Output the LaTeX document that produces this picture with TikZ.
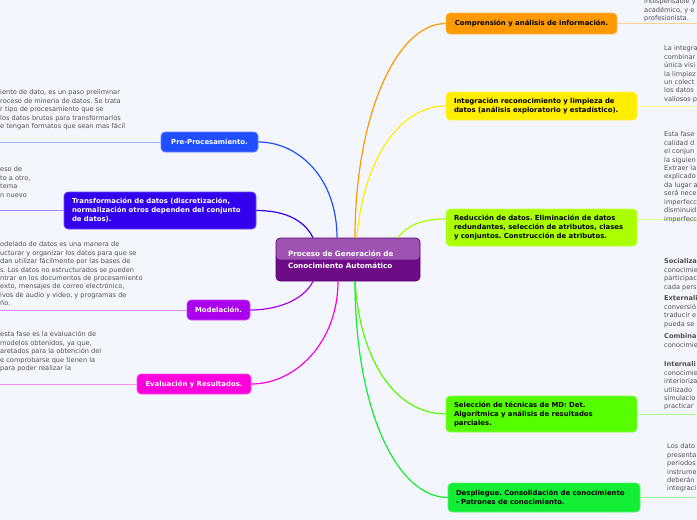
\documentclass[tikz,border=0pt]{standalone}
\usepackage{fontspec}
\setmainfont{DejaVu Sans}
\usetikzlibrary{positioning, calc}
\definecolor{bg}{HTML}{F4F6FD}
\definecolor{txtgray}{HTML}{505050}
\definecolor{hubtop}{HTML}{9E52B2}
\definecolor{hubbot}{HTML}{6E0C88}
\definecolor{hubedge}{HTML}{5A0070}
\definecolor{ppblue}{HTML}{1F4FFF}
\definecolor{trviolet}{HTML}{3300EE}
\definecolor{mdpurple}{HTML}{AA00EE}
\definecolor{evpink}{HTML}{FF00DD}
\definecolor{cporange}{HTML}{FF9900}
\definecolor{inyellow}{HTML}{FFEE00}
\definecolor{rdlime}{HTML}{AAFF00}
\definecolor{slgreen}{HTML}{55FF00}
\definecolor{dpgreen}{HTML}{11EE33}
\frenchspacing

\begin{document}
\begin{tikzpicture}[x=1pt, y=-1pt,
  branch/.style={rounded corners=4pt, inner sep=0pt, fill=#1, draw=#1!70!white,
    line width=0.6pt, font=\fontsize{6.9}{9}\selectfont\bfseries},
  hubbox/.style={rounded corners=4pt, inner sep=0pt, fill=hubbot, draw=hubedge,
    line width=0.6pt, text=white, align=left, text width=120pt,
    minimum width=144pt, minimum height=43pt,
    font=\fontsize{7.2}{12}\selectfont\bfseries,
    path picture={\fill[hubtop] (path picture bounding box.north west)
      rectangle (path picture bounding box.east);}},
  note/.style={anchor=north west, inner sep=0pt, align=left, text=txtgray,
    font=\fontsize{6.6}{8.45}\selectfont},
  link/.style={line width=1.2pt, draw=#1},
  lead/.style={line width=0.9pt, draw=#1!45!white},
]

% Background
\fill[bg] (0,0) rectangle (697,520);
\clip (0,0) rectangle (697,520);

% Edges of the sheet
\coordinate (L) at (0,0);
\coordinate (R) at (697,0);

% ================================================================
% Central topic
% ================================================================
\node[hubbox] (hub) at (348,259.5)
  {Proceso de Generación de\\Conocimiento Automático};

% ================================================================
% LEFT branches
% ================================================================
\node[branch=ppblue, text=white, minimum width=97pt, minimum height=20pt]
  (pre) at (209.5,142) {Pre-Procesamiento.};
\node[branch=trviolet, text=white, minimum width=192pt, minimum height=37pt,
  text width=176pt, align=left] (tra) at (160,210.5)
  {Transformación de datos (discretización,\\normalización otros dependen del conjunto\\de datos).};
\node[branch=mdpurple, text=white, minimum width=63pt, minimum height=20pt]
  (mod) at (218.5,310) {Modelación.};
\node[branch=evpink, text=white, minimum width=114pt, minimum height=20pt]
  (eva) at (194,384) {Evaluación y Resultados.};

% ================================================================
% RIGHT branches
% ================================================================
\node[branch=cporange, minimum width=171pt, minimum height=21pt]
  (com) at (531.5,23.5) {Comprensión y análisis de información.};
\node[branch=inyellow, minimum width=191pt, minimum height=28pt,
  text width=175pt, align=left] (int) at (541.5,106)
  {Integración reconocimiento y limpieza de\\datos (análisis exploratorio y estadístico).};
\node[branch=rdlime, minimum width=191pt, minimum height=37pt,
  text width=175pt, align=left] (red) at (541.5,227.5)
  {Reducción de datos. Eliminación de datos\\redundantes, selección de atributos, clases\\y conjuntos. Construcción de atributos.};
\node[branch=slgreen, minimum width=191pt, minimum height=36pt,
  text width=175pt, align=left] (sel) at (541.5,414)
  {Selección de técnicas de MD: Det.\\Algorítmica y análisis de resultados\\parciales.};
\node[branch=dpgreen, minimum width=192pt, minimum height=29pt,
  text width=176pt, align=left] (dep) at (544,497.5)
  {Despliegue. Consolidación de conocimiento\\- Patrones de conocimiento.};

% ================================================================
% Connectors from the central topic
% ================================================================
\draw[link=ppblue] ([xshift=-11pt]hub.north) .. controls +(0,-60) and +(40,0) .. (pre.east);
\draw[link=trviolet] ([xshift=-35pt]hub.north) .. controls +(-10,-20) and +(25,0) .. (tra.east);
\draw[link=mdpurple] ([xshift=-35pt]hub.south) .. controls +(-10,20) and +(25,0) .. (mod.east);
\draw[link=evpink] ([xshift=-10pt]hub.south) .. controls +(0,60) and +(45,0) .. (eva.east);
\draw[link=cporange] ([xshift=7pt]hub.north) .. controls +(0,-120) and +(-50,0) .. (com.west);
\draw[link=inyellow] ([xshift=9pt]hub.north) .. controls +(5,-70) and +(-50,0) .. (int.west);
\draw[link=rdlime] ([xshift=50pt]hub.north) .. controls +(10,-14) and +(-20,0) .. ([yshift=8.5pt]red.west);
\draw[link=slgreen] ([xshift=7pt]hub.south) .. controls +(5,80) and +(-50,0) .. (sel.west);
\draw[link=dpgreen] ([xshift=7pt]hub.south) .. controls +(0,130) and +(-50,0) .. (dep.west);

% Leads out to the notes
\draw[lead=ppblue] (pre.west) -- (pre.west -| L);
\draw[lead=trviolet] (tra.west) -- (tra.west -| L);
\draw[lead=mdpurple] (mod.west) -- (mod.west -| L);
\draw[lead=evpink] (eva.west) -- (eva.west -| L);
\draw[lead=cporange] (com.east) -- (com.east -| R);
\draw[lead=inyellow] (int.east) -- (int.east -| R);
\draw[lead=rdlime] ([yshift=8.5pt]red.east) -- ([yshift=8.5pt]red.east -| R);
\draw[lead=slgreen] (sel.east) -- (sel.east -| R);
\draw[lead=dpgreen] (dep.east) -- (dep.east -| R);

% ================================================================
% Notes (cut by the sheet edges)
% ================================================================
\node[note] (prenote) at (0,89.5)
  {iento de dato, es un paso preliminar\\roceso de mineria de datos. Se trata\\r tipo de procesamiento que se\\los datos brutos para transformarlos\\e tengan formatos que sean mas fácil};
\node[note] (tranote) at (0,166.5)
  {eso de\\to a otro,\\tema\\n nuevo};
\node[note] (modnote) at (0,241.5)
  {odelado de datos es una manera de\\ucturar y organizar los datos para que se\\dan utilizar fácilmente por las bases de\\s. Los datos no estructurados se pueden\\ntrar en los documentos de procesamiento\\exto, mensajes de correo electrónico,\\ivos de audio y video, y programas de\\ño.};
\node[note] (evanote) at (0,331.5)
  {esta fase es la evaluación de\\modelos obtenidos, ya que,\\aretados para la obtención del\\e comprobarse que tienen la\\para poder realizar la};

\node[note] (comnote) at (644,-1.5)
  {indispensable y\\académico, y e\\profesionista.};
\node[note] (intnote) at (664,45.5)
  {La integra\\combinar\\única visi\\la limpiez\\un colect\\los datos\\valiosos p};
\node[note] (rednote) at (664,131.5)
  {Esta fase\\calidad d\\el conjun\\la siguien\\Extraer la\\explicado\\da lugar a\\será nece\\imperfecc\\disminuid\\imperfecc};
\node[note] (selnote1) at (664,258.5)
  {\textbf{Socializa}\\conocimie\\participac\\cada pers};
\node[note] (selnote2) at (664,295.5)
  {\textbf{Externali}\\conversió\\traducir e\\pueda se};
\node[note] (selnote3) at (664,333.5)
  {\textbf{Combina}\\conocimie};
\node[note] (selnote4) at (664,361.5)
  {\textbf{Internali}\\conocimie\\interioriza\\utilizado\\simulacio\\practicar};
\node[note] (depnote) at (667,443.5)
  {Los dato\\presenta\\periodos\\instrume\\deberán\\integraci};

\end{tikzpicture}
\end{document}
